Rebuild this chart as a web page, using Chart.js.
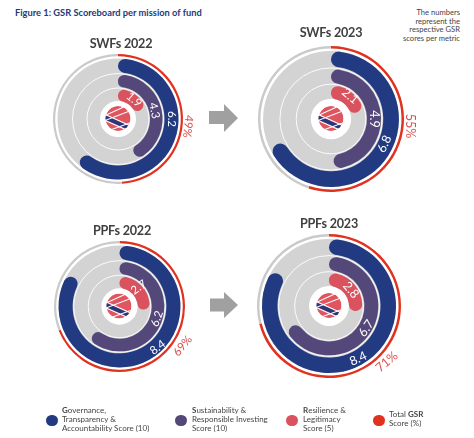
<!DOCTYPE html>
<html>
<head>
<meta charset="utf-8">
<style>
    html, body { margin: 0; padding: 0; background: #fff; }
    body { position: relative; width: 474px; height: 438px; overflow: hidden; font-family: Lato, sans-serif; color: #3c3c3c; }
    canvas, .txt, svg { position: absolute; }
    .txt { white-space: nowrap; }
    .figTitle { left: 15px; top: 7px; font-size: 9.3px; font-weight: 700; color: #1f3a78; }
    .note { right: 14px; top: 8px; font-size: 7.6px; line-height: 8.6px; text-align: right; color: #444; }
    .panelTitle { font-size: 12.6px; font-weight: 700; color: #404040; transform: translateX(-50%); letter-spacing: -0.2px; }
    .legText { font-size: 8px; line-height: 9px; color: #444; }
    .legDot { position: absolute; width: 11.5px; height: 11.5px; border-radius: 50%; }
</style>
</head>
<body>
<div class="txt figTitle">Figure 1: GSR Scoreboard per mission of fund</div>
<div class="txt note">The numbers<br>represent the<br>respective GSR<br>scores per metric</div>

<svg width="474" height="438" style="left:0;top:0">
    <defs>
        <clipPath id="ball"><circle cx="0" cy="0" r="12.5"/></clipPath>
        <g id="logo" clip-path="url(#ball)">
            <circle cx="0" cy="0" r="12.5" fill="#df5660"/>
            <g transform="rotate(24)">
                <path d="M-14 1.6H14M-14 7H14" stroke="#fff" stroke-width="1.1"/>
                <path d="M-14 4.3H14" stroke="#24397f" stroke-width="3.8"/>
            </g>
            <path d="M-13 -3L9 -13M-13 2L13 -8M-9 12L13 4" stroke="#fff" stroke-width="1.1"/>
        </g>
    </defs>
    <path d="M209 111H224V104L238 118L224 132V124H209Z" fill="#a0a0a0"/>
    <path d="M210 298.500H224V292L238 305L224 318V311.500H210Z" fill="#a0a0a0"/>
</svg>

<script src="https://cdn.jsdelivr.net/npm/chart.js@4"></script>
<script>
// ==================== DATA ====================
const panelNames = ['SWFs 2022', 'SWFs 2023', 'PPFs 2022', 'PPFs 2023'];
const governance = [6.2, 6.8, 8.4, 8.4];
const sustainability = [4.3, 4.9, 6.2, 6.7];
const resilience = [1.9, 2.1, 2.7, 2.8];
const totalGsr = [49, 55, 69, 71];
const scoreMax = 10;
const totalMax = 100;

const legendLabels = [
    ['<b>G</b>overnance,', 'Transparency &', 'Accountability Score (10)'],
    ['<b>S</b>ustainability &', 'Responsible Investing', 'Score (10)'],
    ['<b>R</b>esilience &', 'Legitimacy', 'Score (5)'],
    ['Total <b>GSR</b>', 'Score (%)']
];

// ==================== LAYOUT ====================
const NAVY = '#223a82', PURPLE = '#54477a', CORAL = '#d9525e', RIM_RED = '#e0321f';
const TRACK = '#d3d3d3', RIM_GREY = '#cacaca', LABEL_RED = '#dc4f50';
const MARGIN = 24;

const panelLayout = [
    { cx: 118, cy: 118.5, r: 65, titleX: 121, titleY: 36, font: 11.5 },
    { cx: 331, cy: 118.5, r: 73, titleX: 331, titleY: 25, font: 12.5 },
    { cx: 119, cy: 306, r: 65.5, titleX: 122, titleY: 223, font: 11.5 },
    { cx: 329, cy: 305.5, r: 72, titleX: 329, titleY: 216, font: 12.5 }
];
// for each label: polar angle (clockwise from 12 o'clock), text rotation, radial shift off the ring's middle
const labelPlace = [
    { total: [96, 96, 6.5], gov: [90, 90, 0], sus: [77, 78, -1], res: [40, 40, 1] },
    { total: [95, 90, 8], gov: [115, -65, -1], sus: [90, 90, 0], res: [40, 40, 3] },
    { total: [122, -50, 10], gov: [137, -37, 2], sus: [108, -70, 1], res: [45, -35, 3] },
    { total: [134, -40, 9.5], gov: [151, -25, 1], sus: [121, -55, 1], res: [54, 50, 0.5] }
];
const legendPlace = [
    { dot: 52, text: 62, top: 405.5, color: NAVY },
    { dot: 181, text: 192, top: 405.5, color: PURPLE },
    { dot: 292, text: 303, top: 405.5, color: CORAL },
    { dot: 379, text: 389, top: 410, color: RIM_RED }
];

// ==================== PLUGINS ====================
// grey track behind the score rings, with the thin white circles between them
const trackPlugin = {
    id: 'track',
    beforeDatasetsDraw(chart) {
        const ctx = chart.ctx;
        const outer = chart.getDatasetMeta(2).data[0];
        const inner = chart.getDatasetMeta(6).data[0];
        ctx.save();
        ctx.beginPath();
        ctx.arc(outer.x, outer.y, outer.outerRadius, 0, Math.PI * 2);
        ctx.arc(outer.x, outer.y, inner.innerRadius, 0, Math.PI * 2, true);
        ctx.fillStyle = TRACK;
        ctx.fill();
        ctx.strokeStyle = '#fff';
        ctx.lineWidth = 0.9;
        [3, 5].forEach(i => {
            const s = chart.getDatasetMeta(i).data[0];
            ctx.beginPath();
            ctx.arc(s.x, s.y, (s.outerRadius + s.innerRadius) / 2, 0, Math.PI * 2);
            ctx.stroke();
        });
        ctx.restore();
    }
};

// rotated value labels sitting on the rings
const ringLabelPlugin = {
    id: 'ringLabels',
    afterDatasetsDraw(chart, args, opts) {
        const ctx = chart.ctx;
        opts.items.forEach(item => {
            const arc = chart.getDatasetMeta(item.ring).data[0];
            const mid = (arc.outerRadius + arc.innerRadius) / 2 + item.place[2];
            const a = item.place[0] * Math.PI / 180;
            ctx.save();
            ctx.translate(arc.x + Math.sin(a) * mid, arc.y - Math.cos(a) * mid);
            ctx.rotate(item.place[1] * Math.PI / 180);
            ctx.font = opts.font + 'px Lato, sans-serif';
            ctx.fillStyle = item.color;
            ctx.textAlign = 'center';
            ctx.textBaseline = 'middle';
            ctx.fillText(item.text, 0, 0);
            ctx.restore();
        });
    }
};

// ==================== CHARTS ====================
function scoreRing(value, color, max, weight) {
    return {
        data: [value, max - value],
        backgroundColor: [color, 'rgba(0,0,0,0)'],
        borderRadius: c => c.dataIndex === 0 ? 20 : 0,
        weight: weight
    };
}

function makePanel(i) {
    const box = panelLayout[i];
    const size = box.r * 2 + MARGIN * 2;
    const canvas = document.createElement('canvas');
    canvas.width = size;
    canvas.height = size;
    canvas.style.left = (box.cx - size / 2) + 'px';
    canvas.style.top = (box.cy - size / 2) + 'px';
    canvas.style.width = size + 'px';
    canvas.style.height = size + 'px';
    document.body.insertBefore(canvas, document.body.querySelector('svg'));

    const rim = { data: [totalGsr[i], totalMax - totalGsr[i]], backgroundColor: [RIM_RED, RIM_GREY], weight: 2.2 };
    const gap = w => ({ data: [1], backgroundColor: ['rgba(0,0,0,0)'], weight: w });
    const place = labelPlace[i];

    new Chart(canvas, {
        type: 'doughnut',
        data: {
            datasets: [
                rim,
                gap(2.3),
                scoreRing(governance[i], NAVY, scoreMax, 14),
                gap(2),
                scoreRing(sustainability[i], PURPLE, scoreMax, 12.5),
                gap(2),
                scoreRing(resilience[i], CORAL, scoreMax, 12)
            ]
        },
        options: {
            responsive: false,
            animation: false,
            cutout: box.r * 18 / 65,
            layout: { padding: MARGIN },
            events: [],
            elements: { arc: { borderWidth: 0, hoverOffset: 0, offset: 0 } },
            datasets: { doughnut: { hoverOffset: 0, borderWidth: 0 } },
            plugins: {
                legend: { display: false },
                tooltip: { enabled: false },
                ringLabels: {
                    font: box.font,
                    items: [
                        { ring: 0, place: place.total, text: totalGsr[i] + '%', color: LABEL_RED },
                        { ring: 2, place: place.gov, text: governance[i].toFixed(1), color: '#fff' },
                        { ring: 4, place: place.sus, text: sustainability[i].toFixed(1), color: '#fff' },
                        { ring: 6, place: place.res, text: resilience[i].toFixed(1), color: '#fff' }
                    ]
                }
            }
        },
        plugins: [trackPlugin, ringLabelPlugin]
    });

    const title = document.createElement('div');
    title.className = 'txt panelTitle';
    title.textContent = panelNames[i];
    title.style.left = box.titleX + 'px';
    title.style.top = box.titleY + 'px';
    document.body.appendChild(title);

    const svg = document.querySelector('svg');
    const use = document.createElementNS('http://www.w3.org/2000/svg', 'use');
    use.setAttribute('href', '#logo');
    use.setAttribute('transform', 'translate(' + box.cx + ',' + box.cy + ')');
    svg.appendChild(use);
}

panelNames.forEach((name, i) => makePanel(i));

// ==================== LEGEND ====================
legendLabels.forEach((lines, i) => {
    const p = legendPlace[i];
    const text = document.createElement('div');
    text.className = 'txt legText';
    text.style.left = p.text + 'px';
    text.style.top = p.top + 'px';
    text.innerHTML = lines.join('<br>');
    document.body.appendChild(text);

    const dot = document.createElement('div');
    dot.className = 'legDot';
    dot.style.left = (p.dot - 5.75) + 'px';
    dot.style.top = '414.5px';
    dot.style.background = p.color;
    document.body.appendChild(dot);
});
</script>
</body>
</html>
